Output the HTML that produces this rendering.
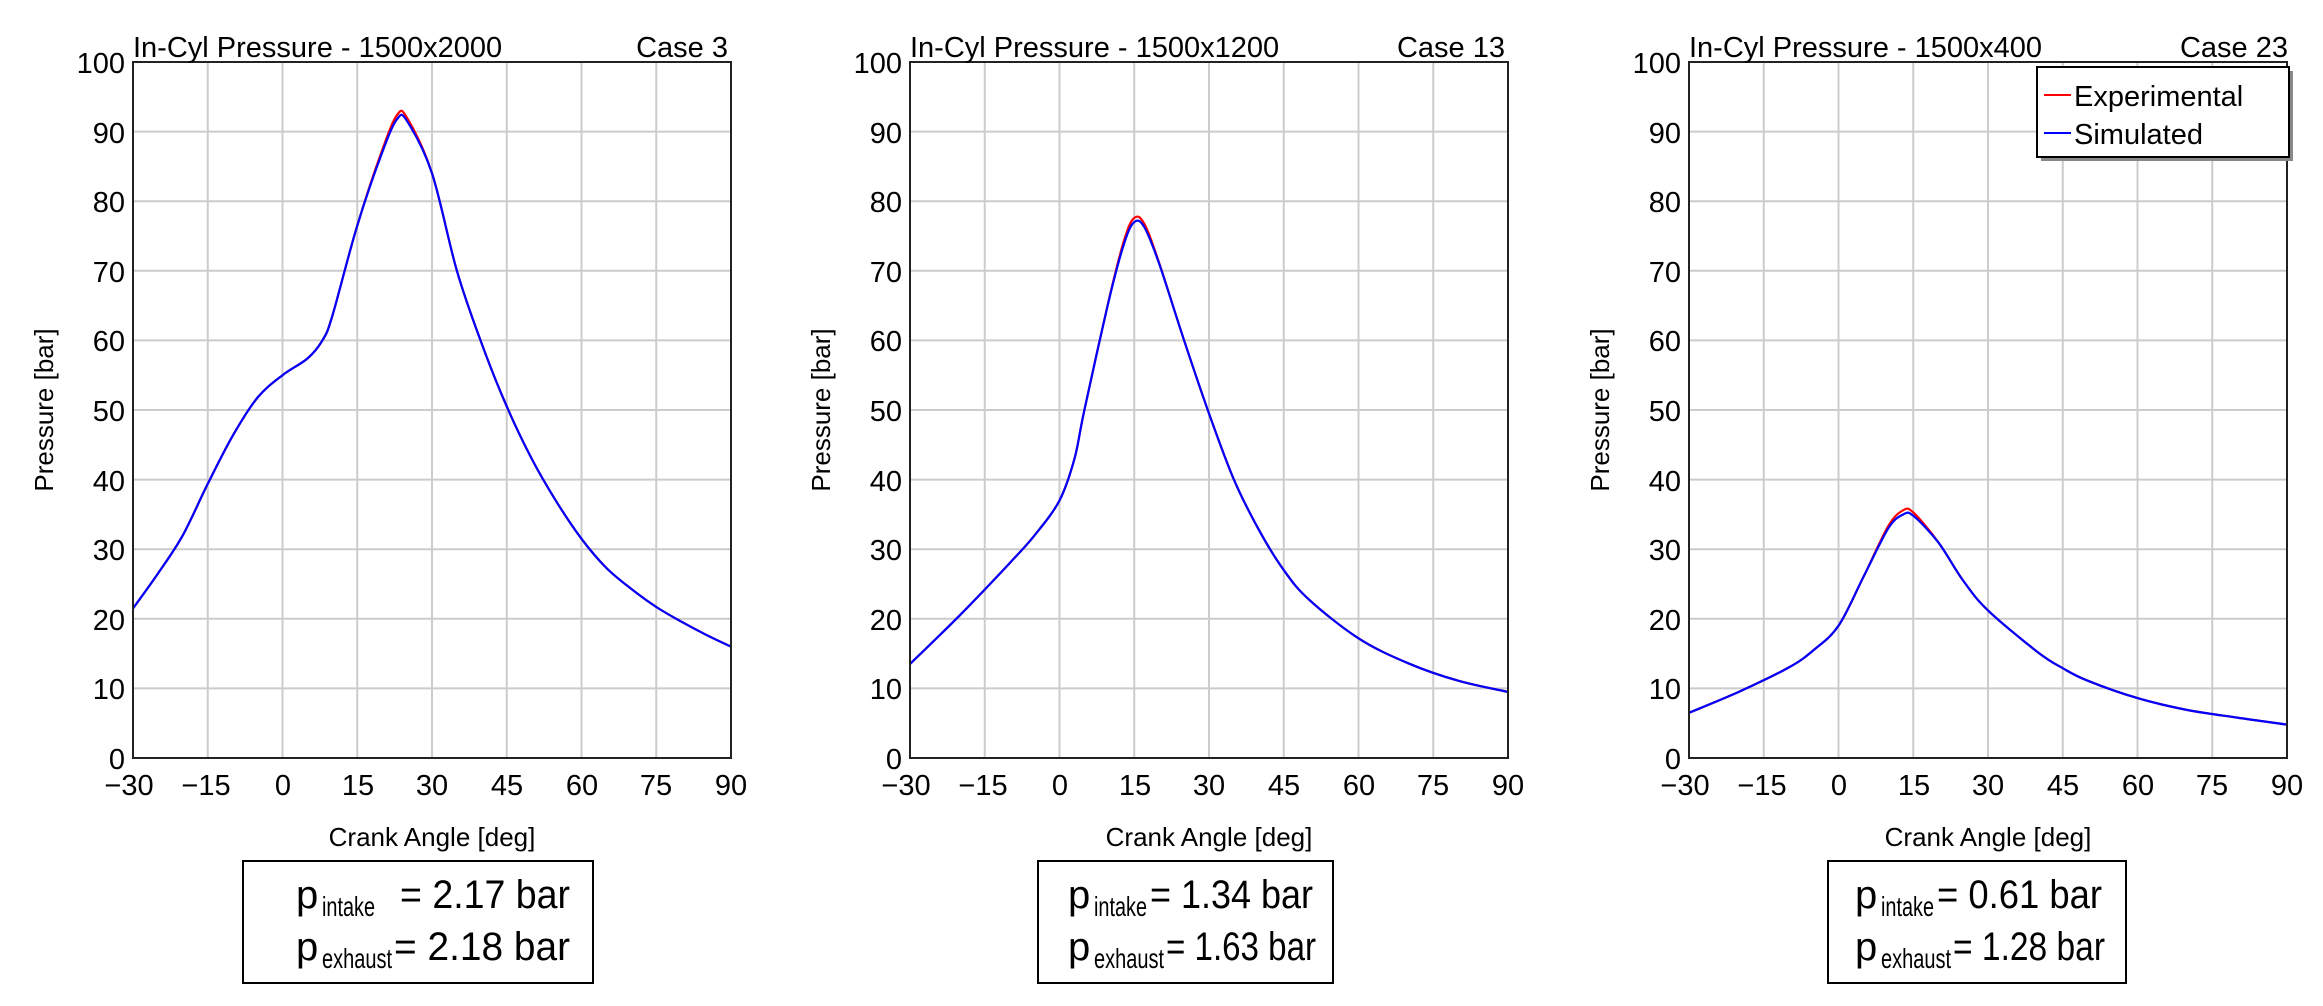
<!DOCTYPE html>
<html><head><meta charset="utf-8"><style>
html,body{margin:0;padding:0;background:#fff;}
svg{display:block;}
text{font-family:"Liberation Sans",Arial,sans-serif;fill:#000;}
.t{font-size:29px;}
.tk{font-size:29px;}
.lb{font-size:26px;}
.bx{font-size:40px;}
.sb{font-size:28px;}
</style></head><body>
<svg id="s" width="2323" height="1006" viewBox="0 0 2323 1006" xmlns="http://www.w3.org/2000/svg">
<rect width="2323" height="1006" fill="#fff"/>
<g id="p1" transform="translate(133,62)">
 <g class="grid"></g>
 <text class="t" x="0" y="-5">In-Cyl Pressure - 1500x2000</text>
 <text class="t" x="595" y="-5" text-anchor="end">Case 3</text>
 <g class="tk" text-anchor="end">
  <text x="-8" y="707">0</text><text x="-8" y="637">10</text><text x="-8" y="568">20</text><text x="-8" y="498">30</text><text x="-8" y="429">40</text><text x="-8" y="359">50</text><text x="-8" y="289">60</text><text x="-8" y="220">70</text><text x="-8" y="150">80</text><text x="-8" y="81">90</text><text x="-8" y="11">100</text>
 </g>
 <g class="tk" text-anchor="middle">
  <text x="-4" y="733">−30</text><text x="73" y="733">−15</text><text x="150" y="733">0</text><text x="225" y="733">15</text><text x="299" y="733">30</text><text x="374" y="733">45</text><text x="449" y="733">60</text><text x="523" y="733">75</text><text x="598" y="733">90</text>
 </g>
 <text class="lb" x="299" y="784" text-anchor="middle">Crank Angle [deg]</text>
 <text class="lb" transform="translate(-80,348) rotate(-90)" text-anchor="middle">Pressure [bar]</text>
</g>
<g id="p2" transform="translate(910,62)">
 <g class="grid"></g>
 <text class="t" x="0" y="-5">In-Cyl Pressure - 1500x1200</text>
 <text class="t" x="595" y="-5" text-anchor="end">Case 13</text>
 <g class="tk" text-anchor="end">
  <text x="-8" y="707">0</text><text x="-8" y="637">10</text><text x="-8" y="568">20</text><text x="-8" y="498">30</text><text x="-8" y="429">40</text><text x="-8" y="359">50</text><text x="-8" y="289">60</text><text x="-8" y="220">70</text><text x="-8" y="150">80</text><text x="-8" y="81">90</text><text x="-8" y="11">100</text>
 </g>
 <g class="tk" text-anchor="middle">
  <text x="-4" y="733">−30</text><text x="73" y="733">−15</text><text x="150" y="733">0</text><text x="225" y="733">15</text><text x="299" y="733">30</text><text x="374" y="733">45</text><text x="449" y="733">60</text><text x="523" y="733">75</text><text x="598" y="733">90</text>
 </g>
 <text class="lb" x="299" y="784" text-anchor="middle">Crank Angle [deg]</text>
 <text class="lb" transform="translate(-80,348) rotate(-90)" text-anchor="middle">Pressure [bar]</text>
</g>
<g id="p3" transform="translate(1689,62)">
 <g class="grid"></g>
 <text class="t" x="0" y="-5">In-Cyl Pressure - 1500x400</text>
 <text class="t" x="599" y="-5" text-anchor="end">Case 23</text>
 <g class="tk" text-anchor="end">
  <text x="-8" y="707">0</text><text x="-8" y="637">10</text><text x="-8" y="568">20</text><text x="-8" y="498">30</text><text x="-8" y="429">40</text><text x="-8" y="359">50</text><text x="-8" y="289">60</text><text x="-8" y="220">70</text><text x="-8" y="150">80</text><text x="-8" y="81">90</text><text x="-8" y="11">100</text>
 </g>
 <g class="tk" text-anchor="middle">
  <text x="-4" y="733">−30</text><text x="73" y="733">−15</text><text x="150" y="733">0</text><text x="225" y="733">15</text><text x="299" y="733">30</text><text x="374" y="733">45</text><text x="449" y="733">60</text><text x="523" y="733">75</text><text x="598" y="733">90</text>
 </g>
 <text class="lb" x="299" y="784" text-anchor="middle">Crank Angle [deg]</text>
 <text class="lb" transform="translate(-80,348) rotate(-90)" text-anchor="middle">Pressure [bar]</text>
 <rect x="352" y="9" width="252" height="90" fill="#888"/>
 <rect x="348" y="5" width="252" height="90" fill="#fff" stroke="#000" stroke-width="2"/>
 <line x1="355" y1="33" x2="382" y2="33" stroke="#f00" stroke-width="2"/>
 <line x1="355" y1="71" x2="382" y2="71" stroke="#00f" stroke-width="2"/>
 <text class="t" x="385" y="44">Experimental</text>
 <text class="t" x="385" y="82">Simulated</text>
</g>

<rect x="243" y="861" width="350" height="122" fill="none" stroke="#000" stroke-width="2"/>
<text class="bx" x="296" y="908">p</text><text class="sb" x="322" y="916" textLength="53" lengthAdjust="spacingAndGlyphs">intake</text>
<text class="bx" x="400" y="908" textLength="170" lengthAdjust="spacingAndGlyphs">= 2.17 bar</text>
<text class="bx" x="296" y="960">p</text><text class="sb" x="322" y="968" textLength="70" lengthAdjust="spacingAndGlyphs">exhaust</text>
<text class="bx" x="394" y="960" textLength="176" lengthAdjust="spacingAndGlyphs">= 2.18 bar</text>

<rect x="1038" y="861" width="295" height="122" fill="none" stroke="#000" stroke-width="2"/>
<text class="bx" x="1068" y="908">p</text><text class="sb" x="1094" y="916" textLength="53" lengthAdjust="spacingAndGlyphs">intake</text>
<text class="bx" x="1150" y="908" textLength="163" lengthAdjust="spacingAndGlyphs">= 1.34 bar</text>
<text class="bx" x="1068" y="960">p</text><text class="sb" x="1094" y="968" textLength="70" lengthAdjust="spacingAndGlyphs">exhaust</text>
<text class="bx" x="1166" y="960" textLength="150" lengthAdjust="spacingAndGlyphs">= 1.63 bar</text>

<rect x="1828" y="861" width="298" height="122" fill="none" stroke="#000" stroke-width="2"/>
<text class="bx" x="1855" y="908">p</text><text class="sb" x="1881" y="916" textLength="53" lengthAdjust="spacingAndGlyphs">intake</text>
<text class="bx" x="1937" y="908" textLength="165" lengthAdjust="spacingAndGlyphs">= 0.61 bar</text>
<text class="bx" x="1855" y="960">p</text><text class="sb" x="1881" y="968" textLength="70" lengthAdjust="spacingAndGlyphs">exhaust</text>
<text class="bx" x="1953" y="960" textLength="152" lengthAdjust="spacingAndGlyphs">= 1.28 bar</text>
</svg>
<script>
var NS="http://www.w3.org/2000/svg",W=598,H=696;
function X(d){return (d+30)/120*W;}function Y(p){return H-p*H/100;}
function path(pts){var P=pts.map(function(a){return [X(a[0]),Y(a[1])];});
 var d="M"+P[0][0].toFixed(1)+","+P[0][1].toFixed(1);
 for(var i=0;i<P.length-1;i++){var p0=P[Math.max(0,i-1)],p1=P[i],p2=P[i+1],p3=P[Math.min(P.length-1,i+2)];
  d+=" C"+(p1[0]+(p2[0]-p0[0])/6).toFixed(1)+","+(p1[1]+(p2[1]-p0[1])/6).toFixed(1)+" "+(p2[0]-(p3[0]-p1[0])/6).toFixed(1)+","+(p2[1]-(p3[1]-p1[1])/6).toFixed(1)+" "+p2[0].toFixed(1)+","+p2[1].toFixed(1);}
 return d;}
function el(n,a,par){var e=document.createElementNS(NS,n);for(var k in a)e.setAttribute(k,a[k]);par.appendChild(e);return e;}
var data={
p1:[[-30,21.5],[-25,26.5],[-20,32],[-15,39.4],[-10,46.3],[-5,51.8],[0,55],[5,57.4],[8,60],[10,63.5],[15,76.5],[20,87],[23,91.8],[25,91.5],[30,84],[35,70],[40,59.5],[45,50.5],[50,43],[55,36.8],[60,31.5],[65,27.3],[70,24.3],[75,21.7],[80,19.6],[85,17.7],[90,16]],
p2:[[-30,13.5],[-20,20.5],[-10,28],[-5,32],[0,37],[3,43],[5,50],[10,66],[13,74],[15,77],[17,76.3],[20,71],[25,60],[30,49.5],[35,40],[40,32.8],[45,27],[50,22.8],[60,17.2],[70,13.6],[80,11.1],[90,9.5]],
p3:[[-30,6.5],[-20,9.5],[-10,13],[-5,15.5],[0,19],[5,26],[10,33],[13,35],[15,34.8],[20,31],[25,25.5],[30,21.2],[40,15.2],[45,12.9],[50,11.1],[60,8.6],[70,6.9],[80,5.8],[90,4.8]]};
var peaks={p1:[23,92],p2:[15,77],p3:[13,35]};
["p1","p2","p3"].forEach(function(id){var g=document.getElementById(id),gr=g.querySelector(".grid");
 for(var i=1;i<8;i++)el("line",{x1:i*W/8,x2:i*W/8,y1:0,y2:H,stroke:"#ccc","stroke-width":2},gr);
 for(var j=1;j<10;j++)el("line",{x1:0,x2:W,y1:j*H/10,y2:j*H/10,stroke:"#ccc","stroke-width":2},gr);
 var d=data[id],pk=peaks[id];
 var red=d.map(function(a){var w=Math.exp(-Math.pow((a[0]-pk[0])/4,2));return [a[0],a[1]+0.6*w];});
 el("path",{d:path(red),fill:"none",stroke:"#f00","stroke-width":2.2},gr);
 el("path",{d:path(d),fill:"none",stroke:"#00f","stroke-width":2.2},gr);
 el("rect",{x:0,y:0,width:W,height:H,fill:"none",stroke:"#222","stroke-width":2},gr);
});
</script>
</body></html>
